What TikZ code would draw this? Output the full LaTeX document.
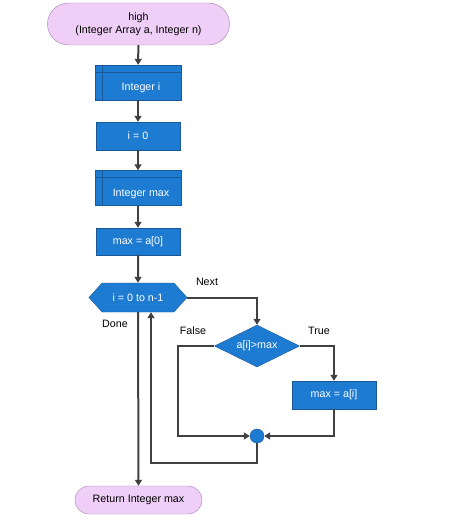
\documentclass[tikz,border=0pt]{standalone}
\usepackage{fontspec}
\setmainfont{Liberation Sans}
\usetikzlibrary{arrows.meta,shapes.geometric,shapes.symbols}
\definecolor{boxblue}{HTML}{1E7BD2}
\definecolor{boxedge}{HTML}{1A5896}
\definecolor{termfill}{HTML}{EFCFF8}
\definecolor{termedge}{HTML}{9C82AE}
\definecolor{wire}{HTML}{404040}

\begin{document}
\begin{tikzpicture}[x=1pt, y=-1pt,
  font=\fontsize{10.7}{13}\selectfont,
  every node/.style={inner sep=0pt},
  term/.style={draw=termedge, fill=termfill, align=center},
  proc/.style={draw=boxedge, fill=boxblue, text=white, minimum width=84pt, minimum height=28pt},
  decl/.style={proc, minimum width=86pt, minimum height=35pt, text height=19pt, text depth=3pt, path picture={
      \draw[boxedge] ([yshift=-7pt]path picture bounding box.north west) -- ([yshift=-7pt]path picture bounding box.north east);
      \draw[boxedge] ([xshift=7pt]path picture bounding box.north west) -- ([xshift=7pt]path picture bounding box.south west);}},
  hexa/.style={proc, signal, signal to=west and east, signal pointer angle=96, minimum width=98pt, minimum height=29pt},
  test/.style={proc, diamond, aspect=2, minimum width=85pt, minimum height=42pt},
  dot/.style={draw=boxedge, fill=boxblue, circle, minimum size=14pt},
  flow/.style={draw=wire, line width=2pt, -{Triangle[length=6pt,width=7pt]}}]
  \useasboundingbox (0,0) rectangle (451,532);

  \node[term, rounded corners=21pt, minimum width=182pt, minimum height=42pt] (start) at (138.5,24) {high\\(Integer Array a, Integer n)};
  \node[decl] (inti) at (138,82.5) {\hspace*{6pt}Integer i};
  \node[proc] (iset) at (138,136) {i = 0};
  \node[decl] (intmax) at (138,188) {\hspace*{6pt}Integer max};
  \node[proc, minimum height=27pt] (maxset) at (138,241.5) {max = a[0]};
  \node[hexa] (loop) at (138,297.5) {i = 0 to n-1};
  \node[test] (cond) at (257,346) {a[i]>max};
  \node[proc] (maxupd) at (334,395) {max = a[i]};
  \node[dot] (join) at (257,436) {};
  \node[term, rounded corners=14pt, minimum width=127pt, minimum height=28pt] (stop) at (138.5,500) {Return Integer max};

  \node (nextlbl) at (207,282) {Next};
  \node (falselbl) at (193,331) {False};
  \node (truelbl) at (319,331) {True};
  \node (donelbl) at (115,324) {Done};

  \draw[flow] (start) -- (inti);
  \draw[flow] (inti) -- (iset);
  \draw[flow] (iset) -- (intmax);
  \draw[flow] (intmax) -- (maxset);
  \draw[flow] (maxset) -- (loop);
  \draw[flow] (loop.east) -| (cond.north);
  \draw[flow] (cond.west) -- ++(-36,0) |- (join.west);
  \draw[flow] (cond.east) -| (maxupd.north);
  \draw[flow] (maxupd.south) |- (join.east);
  \draw[flow] (join.south) -- ++(0,20) -| ([xshift=13pt]loop.south);
  \draw[flow] (loop.south) -- (stop.north);
\end{tikzpicture}
\end{document}
